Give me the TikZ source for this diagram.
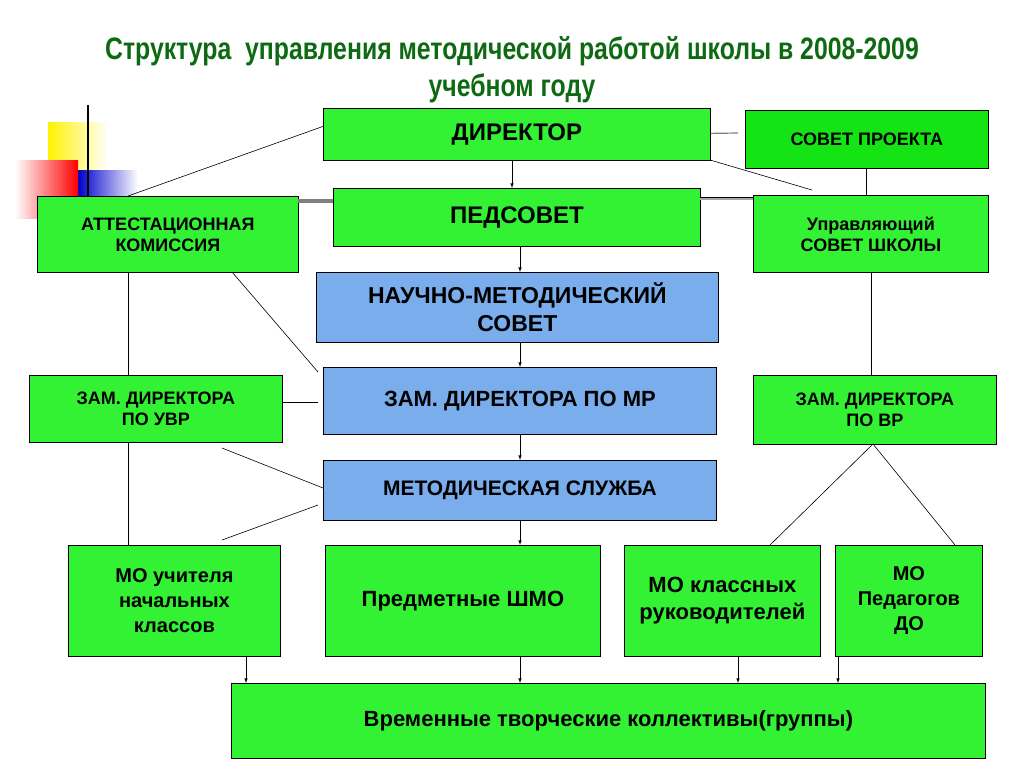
\documentclass[tikz,border=0pt]{standalone}
\usepackage{fontspec}
\setmainfont{Liberation Sans}
\begin{document}
\begin{tikzpicture}[x=1pt,y=-1pt,
  box/.style={draw=black,line width=0.8pt,fill=gbox,align=center,font=\bfseries\fontsize{18}{21}\selectfont},
  bbox/.style={box,fill=bluebox},
  ln/.style={line width=0.6pt,black},
  ar/.style={ln,-latex}]
\definecolor{gbox}{HTML}{33F233}
\definecolor{bluebox}{HTML}{7AADEC}
\definecolor{ttl}{HTML}{0E6A12}
\useasboundingbox (0,0) rectangle (1024,768);
% decoration
\shade[left color=yellow!90!orange,right color=white] (48,122) rectangle (108,178);
\shade[left color=blue!80!black,right color=white] (78,170) rectangle (138,226);
\shade[left color=white,right color=red] (15,160) rectangle (78,218);
\draw[line width=2.5pt] (88,105) -- (88,196);
% title
\node[font=\bfseries\fontsize{31}{37}\selectfont,text=ttl,xscale=0.8,align=center] (title) at (512,70)
  {Структура\ \ управления методической работой школы в 2008-2009\\учебном году};
% boxes
\node[box,minimum width=387,minimum height=52,anchor=north west,font=\bfseries\fontsize{24}{28}\selectfont] (dir) at (323,108) {ДИРЕКТОР};
\node[box,fill=green!85!black!60!gbox,minimum width=243,minimum height=58,anchor=north west] (sp) at (745,110) {СОВЕТ ПРОЕКТА};
\node[box,minimum width=367,minimum height=58,anchor=north west,font=\bfseries\fontsize{24}{28}\selectfont] (ped) at (333,188) {ПЕДСОВЕТ};
\node[box,minimum width=261,minimum height=76,anchor=north west] (att) at (37,196) {АТТЕСТАЦИОННАЯ\\КОМИССИЯ};
\node[box,minimum width=235,minimum height=77,anchor=north west] (upr) at (753,195) {Управляющий\\СОВЕТ ШКОЛЫ};
\node[bbox,minimum width=402,minimum height=70,anchor=north west,font=\bfseries\fontsize{23}{28}\selectfont] (nms) at (316,272) {НАУЧНО-МЕТОДИЧЕСКИЙ\\СОВЕТ};
\node[bbox,minimum width=393,minimum height=67,anchor=north west,font=\bfseries\fontsize{22}{26}\selectfont] (mr) at (323,367) {ЗАМ. ДИРЕКТОРА ПО МР};
\node[box,minimum width=253,minimum height=67,anchor=north west] (uvr) at (29,375) {ЗАМ. ДИРЕКТОРА\\ПО УВР};
\node[box,minimum width=243,minimum height=69,anchor=north west] (vr) at (753,375) {ЗАМ. ДИРЕКТОРА\\ПО ВР};
\node[bbox,minimum width=393,minimum height=60,anchor=north west,font=\bfseries\fontsize{21}{25}\selectfont] (ms) at (323,460) {МЕТОДИЧЕСКАЯ СЛУЖБА};
\node[box,minimum width=212,minimum height=111,anchor=north west,font=\bfseries\fontsize{20}{25}\selectfont] (mo1) at (68,545) {МО учителя\\начальных\\классов};
\node[box,minimum width=275,minimum height=111,anchor=north west,font=\bfseries\fontsize{22}{26}\selectfont] (psh) at (325,545) {Предметные ШМО};
\node[box,minimum width=196,minimum height=111,anchor=north west,font=\bfseries\fontsize{22}{27}\selectfont,inner xsep=1pt] (mok) at (624,545) {МО классных\\руководителей};
\node[box,minimum width=147,minimum height=111,anchor=north west,font=\bfseries\fontsize{20}{25}\selectfont] (mop) at (835,545) {МО\\Педагогов\\ДО};
\node[box,minimum width=754,minimum height=75,anchor=north west,font=\bfseries\fontsize{22}{26}\selectfont] (vtk) at (231,683) {Временные творческие коллективы(группы)};
% coordinates
\coordinate (c1) at (738,133);
\coordinate (c2) at (812,190);
\coordinate (c3) at (318,372);
\coordinate (c4) at (318,402);
\coordinate (c5) at (323,488);
\coordinate (c6) at (318,505);
\coordinate (c7) at (222,448);
\coordinate (c8) at (222,540);
% connectors
\draw[ln] (dir.west) ++(0,-8) -- (128,196);
\draw[line width=1.2pt,gray] (dir.east) ++(0,-1) -- (c1);
\draw[ln] (710,160) -- (c2);
\draw[ln] (866,168) -- (866,195);
\draw[ar] (512,160) -- (512,188);
\draw[line width=4pt,gray] (298,201) -- (333,201);
\draw[line width=1.2pt,gray!70] (700,199) -- (753,199);
\draw[ln] (700,197) -- (753,197);
\draw[ar] (520,246) -- (520,272);
\draw[ar] (520,342) -- (520,367);
\draw[ln] (128,272) -- (128,375);
\draw[ln] (232,272) -- (c3);
\draw[ln] (282,402) -- (c4);
\draw[ln] (128,442) -- (128,545);
\draw[ln] (c7) -- (c5);
\draw[ln] (c6) -- (c8);
\draw[ar] (520,434) -- (520,460);
\draw[ar] (520,520) -- (520,545);
\draw[ln] (871,272) -- (871,375);
\draw[ln] (873,444) -- (770,545);
\draw[ln] (873,444) -- (955,545);
\foreach \x in {246,520,738,838} \draw[ar] (\x,656) -- (\x,683);
\end{tikzpicture}
\end{document}
